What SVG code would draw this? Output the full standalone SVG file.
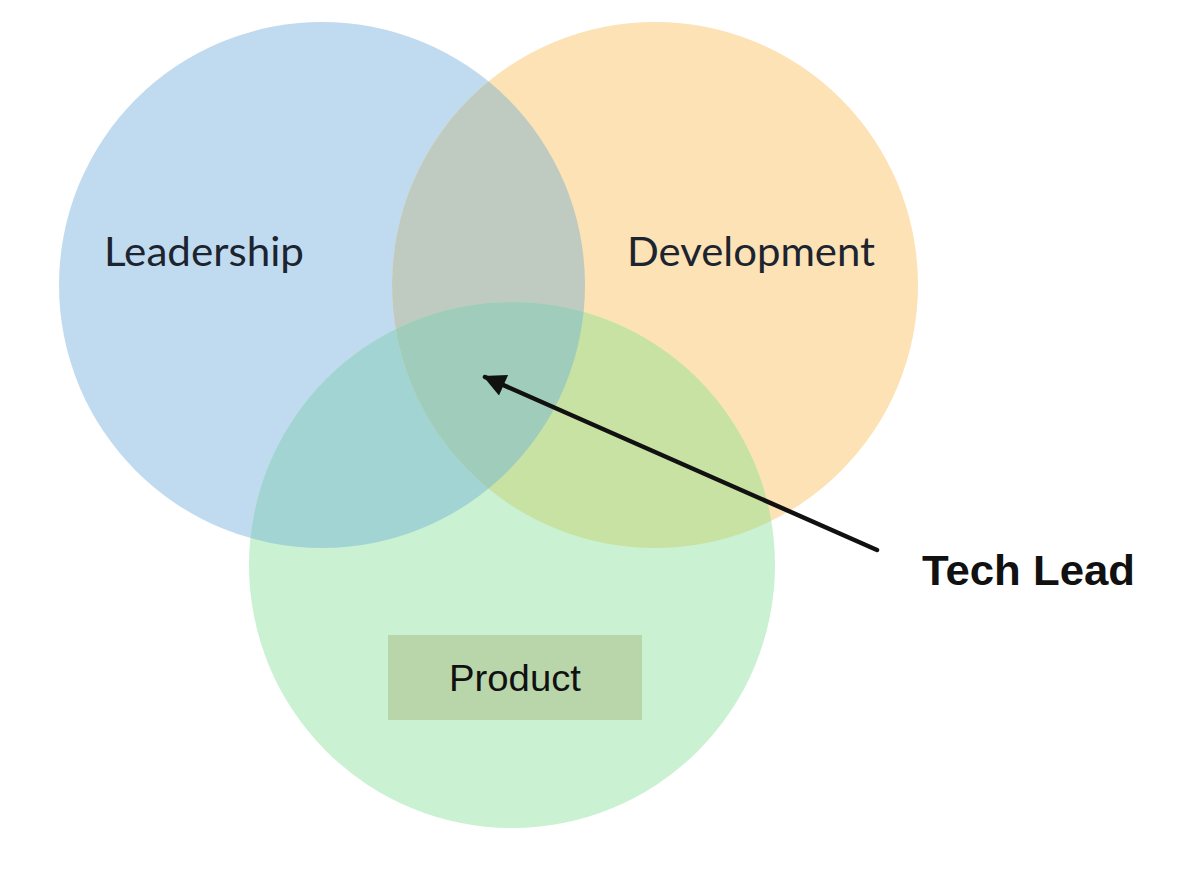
<svg xmlns="http://www.w3.org/2000/svg" width="1200" height="869" viewBox="0 0 1200 869">
<style>
.lbl{font-family:Lato,"Noto Sans",sans-serif;font-size:41px;fill:#1c2430}
.prod{font-family:"Liberation Sans",Arial,sans-serif;font-size:37px;fill:#111}
.tl{font-family:"Liberation Sans",Arial,sans-serif;font-size:42px;font-weight:bold;fill:#111}
</style>
<defs>
<clipPath id="cBlue"><circle cx="322" cy="285" r="263"/></clipPath>
<clipPath id="cOrange"><circle cx="655" cy="285" r="263"/></clipPath>
<marker id="ah" viewBox="0 0 10 10" refX="9" refY="5" markerWidth="5.5" markerHeight="5" orient="auto" markerUnits="strokeWidth">
<path d="M0,0 L10,5 L0,10 Z" fill="#111"/>
</marker>
</defs>
<rect width="1200" height="869" fill="#ffffff"/>
<g id="leadership">
<circle cx="322" cy="285" r="263" fill="#c0dbf0"/>
</g>
<g id="development">
<circle cx="655" cy="285" r="263" fill="#fce2b5"/>
</g>
<g id="product">
<circle cx="512" cy="565" r="263" fill="#c9f1d2"/>
</g>
<g id="overlaps">
<circle cx="655" cy="285" r="263" fill="#bfcbc0" clip-path="url(#cBlue)"/>
<circle cx="512" cy="565" r="263" fill="#a3d4d4" clip-path="url(#cBlue)"/>
<circle cx="512" cy="565" r="263" fill="#c8e2a3" clip-path="url(#cOrange)"/>
<g clip-path="url(#cOrange)">
<circle cx="512" cy="565" r="263" fill="#9fccbb" clip-path="url(#cBlue)"/>
</g>
</g>
<g id="labels">
<text class="lbl" x="104" y="266" textLength="200" lengthAdjust="spacingAndGlyphs">Leadership</text>
<text class="lbl" x="627" y="266" textLength="248" lengthAdjust="spacingAndGlyphs">Development</text>
</g>
<g id="product-box">
<rect x="388" y="635" width="254" height="85" fill="#b9d6ab"/>
<text class="prod" x="515" y="691" text-anchor="middle" textLength="132" lengthAdjust="spacingAndGlyphs">Product</text>
</g>
<g id="connectors">
<line x1="877" y1="550" x2="485" y2="377" stroke="#111" stroke-width="4.5" stroke-linecap="round" marker-end="url(#ah)"/>
</g>
<g id="tech-lead">
<text class="tl" x="922" y="585" textLength="213" lengthAdjust="spacingAndGlyphs">Tech Lead</text>
</g>
</svg>
